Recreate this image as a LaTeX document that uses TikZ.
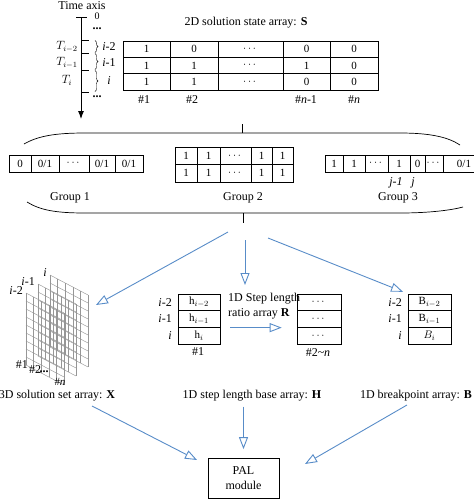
\documentclass[tikz,border=0pt]{standalone}
\usepackage{amsmath}
\usepackage{fontspec}
\setmainfont{Liberation Serif}
\usepackage{tikz}
\usetikzlibrary{arrows.meta}
\usetikzlibrary{decorations.pathreplacing}

\definecolor{flowblue}{RGB}{88,140,200}
\definecolor{gridgray}{RGB}{150,150,150}

\begin{document}
\begin{tikzpicture}[x=1pt, y=-1pt]
		\tikzset{txt/.style={font=\fontsize{12}{15}\selectfont, inner sep=1pt}}
		\tikzset{cell/.style={draw, line width=0.6pt, inner sep=0pt, font=\fontsize{11}{12}\selectfont}}
		\tikzset{sheet/.style={draw=gridgray, line width=0.45pt}}
		\tikzset{flow/.style={draw=flowblue, line width=0.9pt, -{Triangle[open, length=12pt, width=9pt]}}}
		\tikzset{tbrace/.style={decorate, decoration={brace, amplitude=3pt}}}
		\useasboundingbox (0,0) rectangle (474,499);
		%time axis
		\node[txt, inner sep=0pt] (taxis) at (82,6) {Time axis};
		\coordinate (t0) at (81,17);
		\coordinate (tend) at (81,119);
		\draw[line width=0.9pt, -{Latex[length=8pt, width=6pt]}] (t0) -- (tend);
		\draw (76,17) -- (87,17);
		\foreach \y in {40,53,70,92}
			\draw (81,\y) -- (89,\y);
		\draw[tbrace] (95,40.5) -- (95,52.5);
		\draw[tbrace] (95,53.5) -- (95,69.5);
		\draw[tbrace] (95,70.5) -- (95,91.5);
		\node[txt, inner sep=0pt, font=\fontsize{10}{11}\selectfont] (tzero) at (97,16) {0};
		\node[txt, inner sep=0pt, anchor=base] (tdots1) at (97,29) {\textbf{...}};
		\node[txt, inner sep=0pt] (tdots2) at (97,97) {\textbf{...}};
		\node[txt] (ti2) at (67,47) {$T_{i-2}$};
		\node[txt] (ti1) at (67,63) {$T_{i-1}$};
		\node[txt] (ti0) at (67,80) {$T_{i}$};
		\node[txt] (ri2) at (109,47) {\textit{i}-2};
		\node[txt] (ri1) at (109,63) {\textit{i}-1};
		\node[txt] (ri0) at (109,81) {\textit{i}};
		%state array S
		\node[txt] (stitle) at (246,23) {2D solution state array: \textbf{S}};
		\foreach \c/\x/\w/\p/\q/\r in {1/146.5/47/1/1/1, 2/194/48/0/1/1, 3/250.5/65/{$\cdots$}/{$\cdots$}/{$\cdots$}, 4/306.5/47/0/1/0, 5/354/48/0/0/0}{
			\node[cell, minimum width=\w*1pt, minimum height=16.3pt] (s1\c) at (\x,49.2) {\p};
			\node[cell, minimum width=\w*1pt, minimum height=16.3pt] (s2\c) at (\x,65.5) {\q};
			\node[cell, minimum width=\w*1pt, minimum height=16.3pt] (s3\c) at (\x,81.8) {\r};
		}
		\node[txt] (sc1) at (144,100) {\#1};
		\node[txt] (sc2) at (192,100) {\#2};
		\node[txt] (sc4) at (306,100) {\#\textit{n}-1};
		\node[txt] (sc5) at (354,100) {\#\textit{n}};
		%grouping brace
		\draw[line width=0.7pt] (24,144) .. controls (38,136) and (55,133) .. (85,133) -- (400,133) .. controls (430,133) and (448,137) .. (460,145);
		\draw[line width=0.7pt] (242,133) -- (242,124);
		\draw[line width=0.7pt] (27,202) .. controls (40,210) and (55,213) .. (85,213) -- (400,213) .. controls (430,213) and (452,210) .. (463,207);
		\draw[line width=0.7pt] (243,213) -- (243,223);
		%group 1
		\foreach \c/\x/\w/\v in {1/20/22/0, 2/45/28/{0/1}, 3/74/30/{$\cdots$}, 4/102/26/{0/1}, 5/129/28/{0/1}}
			\node[cell, minimum width=\w*1pt, minimum height=17pt] (ga\c) at (\x,163.5) {\v};
		\node[txt] (glab1) at (70,198) {Group 1};
		%group 2
		\foreach \c/\x/\w/\v in {1/186/22/1, 2/208.5/23/1, 3/235.5/31/{$\cdots$}, 4/261.5/21/1, 5/282.5/21/1}{
			\node[cell, minimum width=\w*1pt, minimum height=17.5pt] (gb1\c) at (\x,155.8) {\v};
			\node[cell, minimum width=\w*1pt, minimum height=17.5pt] (gb2\c) at (\x,173.2) {\v};
		}
		\node[txt] (glab2) at (243,198) {Group 2};
		%group 3
		\foreach \c/\x/\w/\v in {1/334/18/1, 2/354/22/1, 3/376.5/23/{$\cdots$}, 4/399/22/1, 5/417.5/15/0, 6/434/18/{$\cdots$}, 7/464/42/{0/1}}
			\node[cell, minimum width=\w*1pt, minimum height=17pt] (gc\c) at (\x,163.5) {\v};
		\node[txt] (gj1) at (396,183) {\textit{j-1}};
		\node[txt] (gj0) at (413,183) {\textit{j}};
		\node[txt] (glab3) at (398,198) {Group 3};
		%3D solution set X
		\foreach \s/\dx/\dy/\lab in {0/50/275/{\textit{i}}, 1/38/284/{\textit{i}-1}, 2/26/293/{\textit{i}-2}}{
			\foreach \k in {0,...,5}
				\draw[sheet] ({\dx+\k*7.6},{\dy+\k*4}) -- ++(0,72);
			\foreach \r in {0,...,9}
				\draw[sheet] (\dx,{\dy+\r*8}) -- ++(38,20);
			\node[txt, anchor=east] (xs\s) at (\dx-2,\dy-2) {\lab};
		}
		\node[txt, inner sep=0pt] (xc1) at (22,365) {\#1};
		\node[txt, inner sep=0pt] (xc2) at (35,370) {\#2};
		\node[txt, inner sep=0pt] (xc3) at (44,372) {\textbf{...}};
		\node[txt, inner sep=0pt, font=\fontsize{11}{12}\selectfont] (xc4) at (60,382) {\#\textit{n}};
		%step length base array H
		\foreach \c/\y/\v/\l in {1/302.3/{$\mathrm{h}_{i-2}$}/{\textit{i}-2}, 2/319/{$\mathrm{h}_{i-1}$}/{\textit{i}-1}, 3/335.7/{$\mathrm{h}_{i}$}/{\textit{i}}}{
			\node[cell, minimum width=42pt, minimum height=16.7pt] (h\c) at (199,\y) {\v};
			\node[txt, anchor=east] (hl\c) at (173,\y) {\l};
		}
		\node[txt] (hc) at (198,352) {\#1};
		%step length ratio array R
		\node[txt, anchor=west, align=left] (rlab) at (227,306) {1D Step length\\ratio array \textbf{R}};
		\foreach \c/\y in {1/302.3, 2/319, 3/335.7}
			\node[cell, minimum width=44pt, minimum height=16.7pt] (r\c) at (319,\y) {$\cdots$};
		\node[txt] (rc) at (318,353) {\#2\textasciitilde\textit{n}};
		%breakpoint array B
		\foreach \c/\y/\v/\l in {1/302.3/{$\mathrm{B}_{i-2}$}/{\textit{i}-2}, 2/319/{$\mathrm{B}_{i-1}$}/{\textit{i}-1}, 3/335.7/{$B_{i}$}/{\textit{i}}}{
			\node[cell, minimum width=43pt, minimum height=16.7pt] (b\c) at (429.5,\y) {\v};
			\node[txt, anchor=east] (bl\c) at (403,\y) {\l};
		}
		%bottom labels and PAL
		\node[txt] (xlab) at (57,396) {3D solution set array: \textbf{X}};
		\node[txt] (hlab) at (252,396) {1D step length base array: \textbf{H}};
		\node[txt] (blab) at (416,396) {1D breakpoint array: \textbf{B}};
		\node[txt, draw, line width=0.7pt, minimum width=71pt, minimum height=40pt, align=center] (pal) at (243.5,478.5) {PAL\\module};
		%flows
		\coordinate (f1) at (228,232);
		\coordinate (xin) at (96,305);
		\coordinate (f2) at (245,240);
		\coordinate (rin) at (245,285);
		\coordinate (f3) at (268,238);
		\draw[flow] (f1) -- (xin);
		\draw[flow] (f2) -- (rin);
		\draw[flow, shorten >=5pt] (f3) -- (b1.north west);
		\draw[flow, shorten <=10pt, shorten >=15pt] (h2.south east) -- (r2.south west);
		\coordinate (x0) at (92,406);
		\coordinate (p1) at (197,460);
		\coordinate (b0) at (407,405);
		\coordinate (p3) at (305,464);
		\draw[flow] (x0) -- (p1);
		\draw[flow, shorten <=4pt, shorten >=9pt] (hlab.south -| pal.north) -- (pal.north);
		\draw[flow] (b0) -- (p3);
\end{tikzpicture}
\end{document}
